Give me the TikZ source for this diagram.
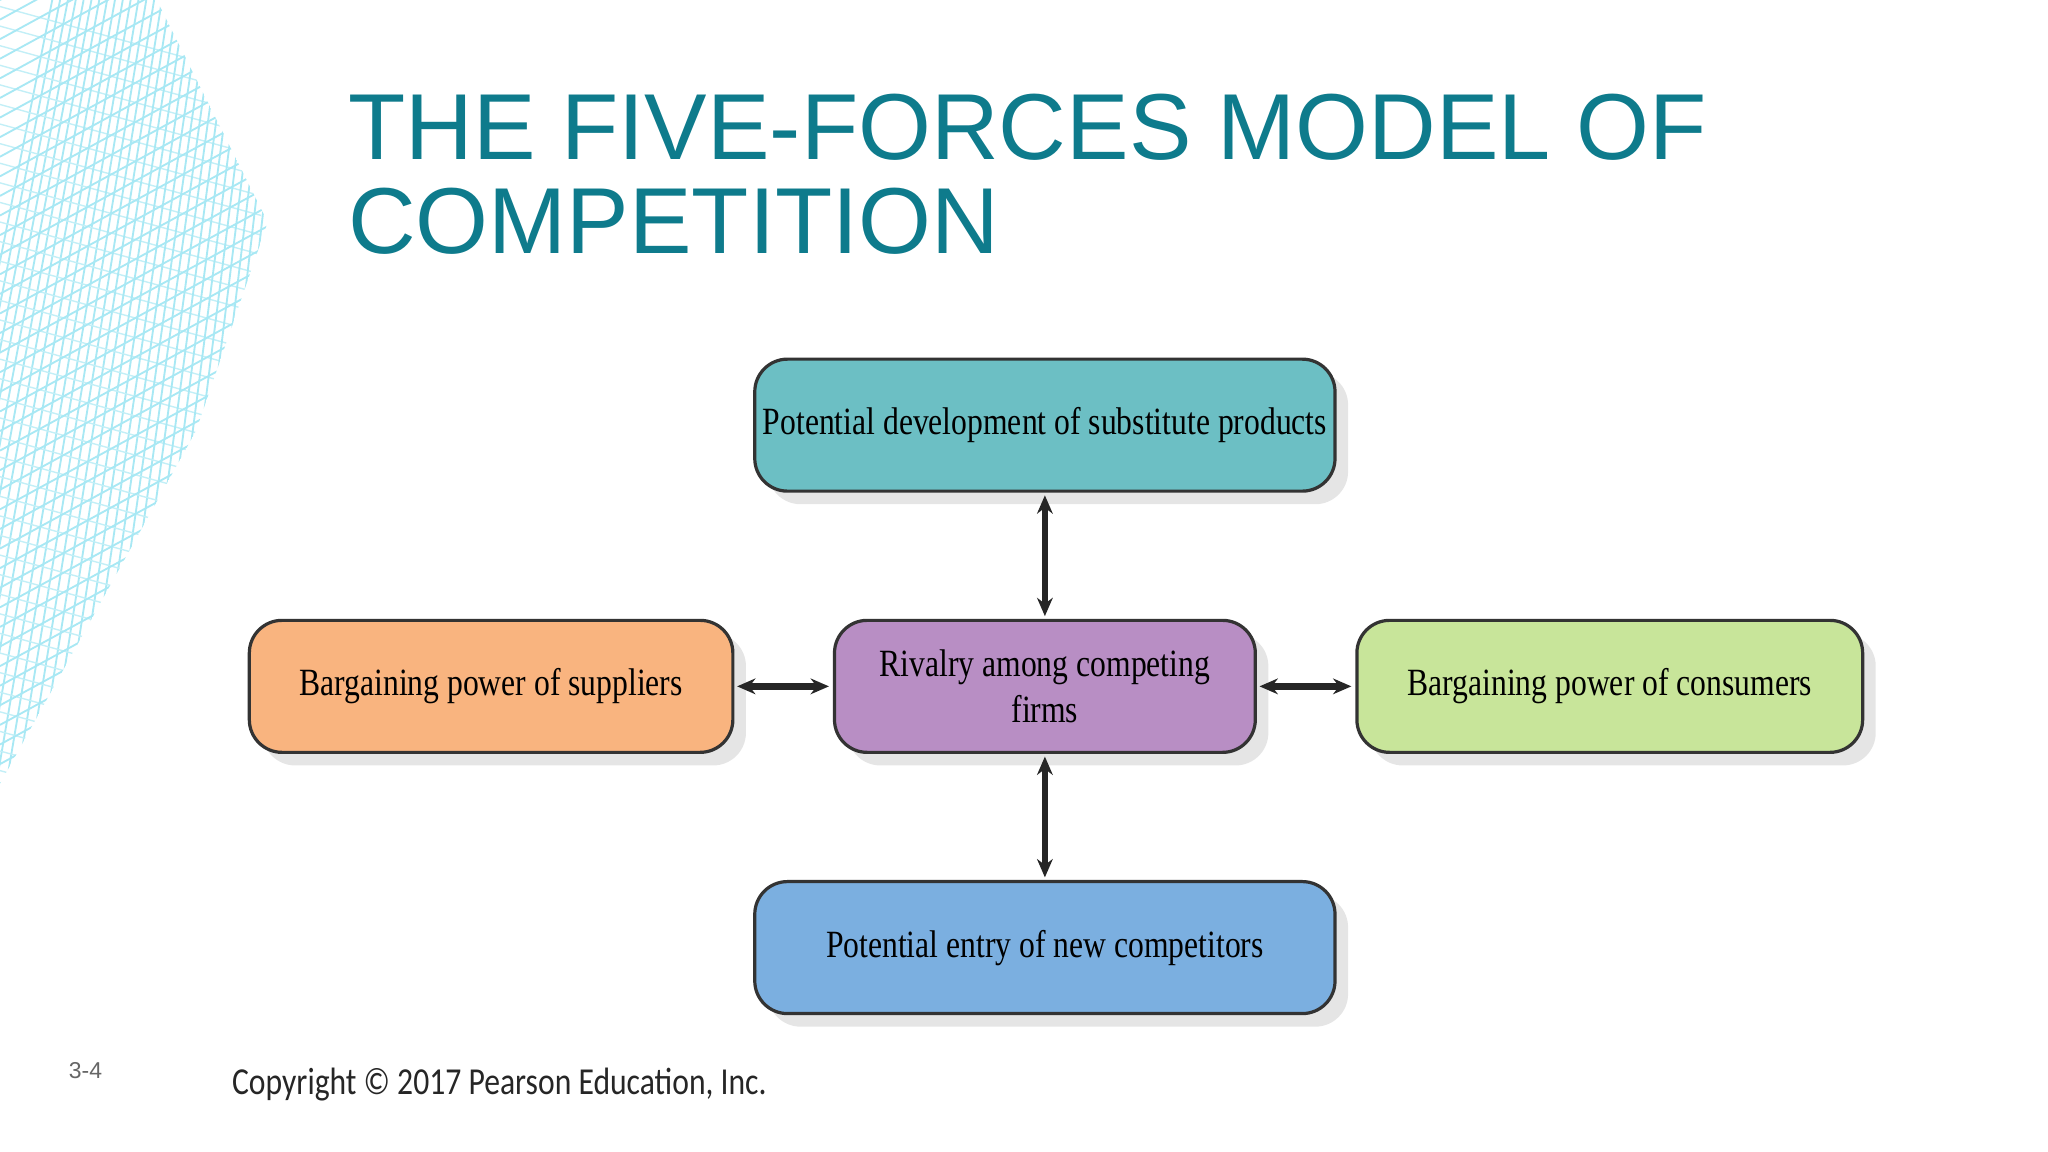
\documentclass[tikz,border=0pt]{standalone}
\usepackage{fontspec}
\setmainfont{Liberation Serif}[FakeStretch=0.82]
\newfontfamily\titlefont{Liberation Sans}
\newfontfamily\copyfont{Carlito}[FakeStretch=0.83]
\usetikzlibrary{arrows.meta,shadows}
\definecolor{titlec}{HTML}{0E7B8C}
\definecolor{topc}{HTML}{6CBFC4}
\definecolor{leftc}{HTML}{F9B47F}
\definecolor{midc}{HTML}{B88EC4}
\definecolor{rightc}{HTML}{C8E59A}
\definecolor{botc}{HTML}{7BAFE0}
\definecolor{mesh}{HTML}{A8E8F4}
\begin{document}
\begin{tikzpicture}[x=0.01cm,y=-0.01cm,
  box/.style={draw=black!80,line width=0.7pt,rounded corners=0.25cm,minimum height=1.01cm,
    align=center,font=\fontsize{8.4}{9}\selectfont,inner sep=1pt,
    drop shadow={shadow xshift=0.1cm,shadow yshift=-0.1cm,opacity=0.2}},
  arr/.style={{Stealth[length=0.14cm,width=0.12cm]}-{Stealth[length=0.14cm,width=0.12cm]},line width=1.4pt,black!85}]
\useasboundingbox (0,0) rectangle (1568,882);
\fill[white] (0,0) rectangle (1568,882);
% decorative mesh
\begin{scope}
\clip (0,0) -- (120,0) -- (205,170) -- (150,330) -- (0,600) -- cycle;
\foreach \i in {0,...,40} {
  \draw[mesh,line width=0.4pt] (-100+\i*8,700) -- (40+\i*6,0);
  \draw[mesh,line width=0.4pt] (0,\i*15) -- (220,\i*15-120);
  \draw[mesh!70,line width=0.3pt] (0,\i*15+5) -- (200,\i*15+60);
}
\end{scope}
% title
\node[anchor=base west,text=titlec,font=\titlefont\fontsize{20.4}{24}\selectfont,inner sep=0] (t1) at (266,122) {THE FIVE-FORCES MODEL OF};
\node[anchor=base west,text=titlec,font=\titlefont\fontsize{20.4}{24}\selectfont,inner sep=0] (t2) at (266,194) {COMPETITION};
% boxes
\node[box,fill=topc,minimum width=4.44cm] (top) at (800,325.5) {Potential development of substitute products};
\node[box,fill=leftc,minimum width=3.70cm] (left) at (376,525.5) {Bargaining power of suppliers};
\node[box,fill=midc,minimum width=3.22cm] (mid) at (800,525.5) {Rivalry among competing\\[1pt]firms};
\node[box,fill=rightc,minimum width=3.87cm] (right) at (1232.5,525.5) {Bargaining power of consumers};
\node[box,fill=botc,minimum width=4.44cm] (bot) at (800,725.5) {Potential entry of new competitors};
% arrows
\draw[arr] ([yshift=-0.02cm]top.south) -- ([yshift=0.02cm]mid.north);
\draw[arr] ([yshift=-0.02cm]mid.south) -- ([yshift=0.02cm]bot.north);
\draw[arr] ([xshift=0.02cm]left.east) -- ([xshift=-0.03cm]mid.west);
\draw[arr] ([xshift=0.02cm]mid.east) -- ([xshift=-0.03cm]right.west);
% footer
\node[anchor=base west,inner sep=0,font=\copyfont\fontsize{8.3}{10}\selectfont,text=black!85] (cp) at (177,838) {Copyright © 2017 Pearson Education, Inc.};
\node[anchor=base west,inner sep=0,font=\titlefont\fontsize{5}{6}\selectfont,text=black!60] (pg) at (52,826) {3-4};
\end{tikzpicture}
\end{document}
